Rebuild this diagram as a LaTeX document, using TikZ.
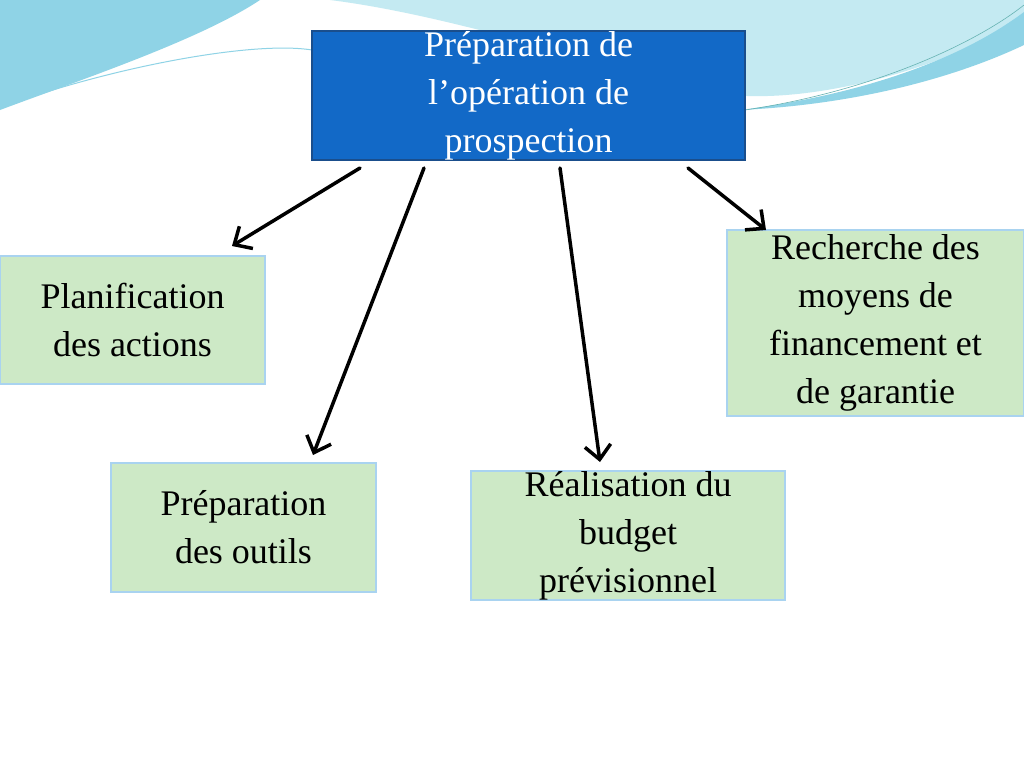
\documentclass[tikz,border=0pt]{standalone}
\usepackage{fontspec}
\setmainfont{Liberation Serif}
\usetikzlibrary{arrows.meta}
\definecolor{gfill}{HTML}{CDE9C6}
\definecolor{gline}{HTML}{A9D3F0}
\definecolor{bfill}{HTML}{1269C7}
\definecolor{bline}{HTML}{1A4E8C}
\definecolor{sw1}{HTML}{8FD3E6}
\definecolor{sw2}{HTML}{C4EAF2}
\tikzset{
 gbox/.style={draw=gline,line width=2pt,fill=gfill,align=center,font=\fontsize{36}{48}\selectfont,inner sep=0pt},
 arr/.style={-{Straight Barb[length=14pt,width=26pt,line width=3.5pt]},line width=3.5pt,line cap=round}
}
\begin{document}
\begin{tikzpicture}[x=1pt,y=-1pt]
\fill[white] (0,0) rectangle (1024,768);
\useasboundingbox (0,0) rectangle (1024,768);
\fill[sw2] (330,0) -- (1024,0) -- (1024,20) .. controls (920,80) and (780,110) .. (700,90) .. controls (600,65) and (450,15) .. (330,0) -- cycle;
\fill[sw1] (0,0) -- (260,0) .. controls (200,40) and (80,80) .. (0,110) -- cycle;
\fill[sw1] (1024,45) .. controls (950,80) and (850,105) .. (740,110) .. controls (860,95) and (960,60) .. (1024,12) -- cycle;
\draw[sw1,line width=1pt] (0,108) .. controls (100,70) and (250,40) .. (312,50);
\draw[teal!60,line width=0.6pt] (745,110) .. controls (880,90) and (980,40) .. (1024,5);
\node[draw=bline,line width=2pt,fill=bfill,minimum width=433pt,minimum height=129pt,inner sep=0pt,align=center,text=white,font=\fontsize{36}{48}\selectfont] (top) at (528.5,95.5) {Préparation de\\l’opération de\\prospection};
\node[gbox,minimum width=265pt,minimum height=128pt] (plan) at (132.5,320) {Planification\\des actions};
\node[gbox,minimum width=265pt,minimum height=129pt] (outil) at (243.5,527.5) {Préparation\\des outils};
\node[gbox,minimum width=314pt,minimum height=129pt] (budg) at (628,535.5) {Réalisation du\\budget\\prévisionnel};
\node[gbox,minimum width=297pt,minimum height=186pt] (rech) at (875.5,323) {Recherche des\\moyens de\\financement et\\de garantie};
\coordinate (s1) at (360,168); \coordinate (e1) at (232,246);
\coordinate (s2) at (424,168); \coordinate (e2) at (313,455);
\coordinate (s3) at (560,168); \coordinate (e3) at (600,462);
\coordinate (s4) at (688,168); \coordinate (e4) at (766,230);
\draw[arr] (s1) -- (e1);
\draw[arr] (s2) -- (e2);
\draw[arr] (s3) -- (e3);
\draw[arr] (s4) -- (e4);
\end{tikzpicture}
\end{document}
